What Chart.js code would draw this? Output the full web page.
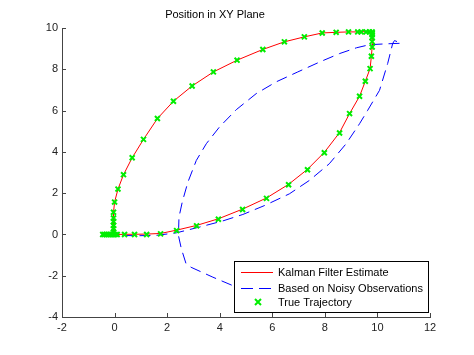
<!DOCTYPE html>
<html>
<head>
<meta charset="utf-8">
<script src="https://cdn.jsdelivr.net/npm/chart.js@4.4.1/dist/chart.umd.min.js"></script>
<style>
  html, body { margin: 0; padding: 0; background: #fff; }
  #wrap { width: 474px; height: 355px; }
</style>
</head>
<body>
<div id="wrap"><canvas id="c" width="474" height="355"></canvas></div>
<script>
// ---- Data ----
const xTicks = [-2, 0, 2, 4, 6, 8, 10, 12];
const yTicks = [-4, -2, 0, 2, 4, 6, 8, 10];
const seriesNames = ["Kalman Filter Estimate", "Based on Noisy Observations", "True Trajectory"];

// True trajectory (green x markers)
const trueX = [-0.45,-0.38,-0.30,-0.22,-0.14,-0.06,0.02,0.10,0.38,0.76,1.22,1.75,2.36,3.12,3.95,4.87,5.78,6.62,7.34,7.98,8.56,8.94,9.32,9.54,9.72,9.77,9.80,9.80,9.80,9.80,9.80,9.80,9.70,9.57,9.38,9.25,8.90,8.43,7.90,7.22,6.46,5.64,4.66,3.76,2.95,2.24,1.63,1.10,0.67,0.34,0.13,0.00,-0.04,-0.04,-0.04,-0.04,-0.04,-0.04];
const trueY = [0,0,0,0,0,0,0,0,0,0,0,0.03,0.19,0.42,0.74,1.21,1.75,2.41,3.14,3.96,4.92,5.86,6.70,7.43,8.04,8.64,9.09,9.35,9.55,9.68,9.76,9.82,9.82,9.82,9.82,9.82,9.82,9.80,9.77,9.58,9.34,8.97,8.45,7.88,7.20,6.46,5.62,4.61,3.72,2.90,2.20,1.57,1.08,0.80,0.62,0.44,0.28,0.12];

// Kalman filter estimate (red line)
const kalX = [-0.45,-0.30,-0.14,0.02,0.10,0.38,0.76,1.22,1.75,2.36,3.12,3.95,4.87,5.78,6.62,7.34,7.98,8.56,8.94,9.32,9.54,9.72,9.77,9.80,9.81,9.80,9.70,9.57,9.38,9.25,8.90,8.43,7.90,7.22,6.46,5.64,4.66,3.76,2.95,2.24,1.63,1.10,0.67,0.34,0.13,0.00,-0.04,-0.04,-0.04];
const kalY = [0,0,0,0,0,0.01,0.01,0.02,0.05,0.21,0.44,0.76,1.23,1.77,2.43,3.16,3.98,4.94,5.86,6.70,7.43,8.04,8.64,9.09,9.55,9.82,9.83,9.83,9.83,9.82,9.82,9.80,9.77,9.58,9.34,8.97,8.45,7.88,7.20,6.46,5.62,4.61,3.72,2.90,2.20,1.57,1.08,0.50,0.05];

// Based on noisy observations (blue dashed)
const obsX = [0.30,0.90,1.60,2.35,3.23,4.10,4.88,5.70,6.65,7.41,8.17,8.81,9.32,9.63,10.08,10.39,10.58,10.65,10.90,10.30,9.70,9.20,8.56,7.80,6.97,6.15,5.39,4.63,3.99,3.49,3.11,2.79,2.58,2.45,2.43,2.54,2.72,2.91,3.74,4.50,5.30];
const obsY = [-0.05,-0.06,-0.04,0.08,0.36,0.65,0.97,1.40,1.97,2.62,3.43,4.40,5.37,6.02,6.99,8.29,9.26,9.40,9.27,9.24,9.20,9.05,8.77,8.36,7.88,7.40,6.83,6.05,5.21,4.40,3.59,2.54,1.60,0.84,-0.05,-0.69,-1.42,-1.59,-2.07,-2.48,-2.90];

const toPts = (xs, ys) => xs.map((x, i) => ({ x: x, y: ys[i] }));

const FONT = "'Liberation Sans', Arial, sans-serif";
const RED = '#ff0000', BLUE = '#0000ff', GREEN = '#00ee00';

const tickPlugin = {
  id: 'inwardTicks',
  afterDraw(chart) {
    const ctx = chart.ctx, xs = chart.scales.x, ys = chart.scales.y, a = chart.chartArea;
    ctx.save();
    ctx.strokeStyle = '#444';
    ctx.lineWidth = 1;
    ctx.beginPath();
    xTicks.forEach(v => {
      const p = Math.round(xs.getPixelForValue(v)) + 0.5;
      ctx.moveTo(p, a.bottom); ctx.lineTo(p, a.bottom - 4);
    });
    yTicks.forEach(v => {
      const p = Math.round(ys.getPixelForValue(v)) + 0.5;
      ctx.moveTo(a.left, p); ctx.lineTo(a.left + 4, p);
    });
    ctx.stroke();
    ctx.restore();
  }
};

const legendPlugin = {
  id: 'boxLegend',
  afterDatasetsDraw(chart) {
    const ctx = chart.ctx;
    const L = 234.5, T = 261.5, W = 194, H = 51;
    ctx.save();
    ctx.fillStyle = '#fff';
    ctx.fillRect(L, T, W, H);
    ctx.strokeStyle = '#000';
    ctx.lineWidth = 1;
    ctx.strokeRect(L, T, W, H);
    ctx.font = '11px ' + FONT;
    ctx.fillStyle = '#000';
    ctx.textBaseline = 'middle';
    const rows = [272, 288, 302];
    ctx.strokeStyle = RED; ctx.beginPath(); ctx.moveTo(241, rows[0] + 0.5); ctx.lineTo(273, rows[0] + 0.5); ctx.stroke();
    ctx.strokeStyle = BLUE; ctx.setLineDash([12, 6]); ctx.beginPath(); ctx.moveTo(241, rows[1] + 0.5); ctx.lineTo(273, rows[1] + 0.5); ctx.stroke();
    ctx.setLineDash([]);
    ctx.strokeStyle = GREEN; ctx.lineWidth = 2; ctx.beginPath();
    ctx.moveTo(255, rows[2] - 3); ctx.lineTo(261, rows[2] + 3);
    ctx.moveTo(261, rows[2] - 3); ctx.lineTo(255, rows[2] + 3);
    ctx.stroke();
    seriesNames.forEach((n, i) => ctx.fillText(n, 278, rows[i] + 1));
    ctx.restore();
  }
};

new Chart(document.getElementById('c'), {
  type: 'scatter',
  data: {
    datasets: [
      { label: seriesNames[0], data: toPts(kalX, kalY), showLine: true, borderColor: RED, borderWidth: 1, pointRadius: 0, fill: false, order: 2 },
      { label: seriesNames[1], data: toPts(obsX, obsY), showLine: true, borderColor: BLUE, borderWidth: 1, borderDash: [11, 6], pointRadius: 0, fill: false, order: 3 },
      { label: seriesNames[2], data: toPts(trueX, trueY), showLine: false, pointStyle: 'crossRot', pointRadius: 3.5, borderColor: GREEN, backgroundColor: GREEN, pointBorderWidth: 2, order: 1 }
    ]
  },
  options: {
    responsive: false,
    animation: false,
    devicePixelRatio: 1,
    layout: { padding: { left: 0, right: 44, top: 0, bottom: 0 } },
    plugins: {
      legend: { display: false },
      tooltip: { enabled: false },
      title: { display: true, text: 'Position in XY Plane', color: '#000', font: { family: FONT, size: 11, weight: 'normal' }, padding: { top: 8, bottom: 7 } }
    },
    scales: {
      x: {
        type: 'linear', min: -2, max: 12,
        afterBuildTicks: s => { s.ticks = xTicks.map(v => ({ value: v })); },
        afterFit: s => { s.height = 38; },
        grid: { display: false, drawTicks: false },
        border: { display: true, color: '#444', width: 1 },
        ticks: { color: '#222', padding: 4, maxRotation: 0, autoSkip: false, font: { family: FONT, size: 11 } }
      },
      y: {
        type: 'linear', min: -4, max: 10,
        afterBuildTicks: s => { s.ticks = yTicks.map(v => ({ value: v })); },
        afterFit: s => { s.width = 62; },
        grid: { display: false, drawTicks: false },
        border: { display: true, color: '#444', width: 1 },
        ticks: { color: '#222', padding: 4, autoSkip: false, font: { family: FONT, size: 11 } }
      }
    }
  },
  plugins: [tickPlugin, legendPlugin]
});
</script>
</body>
</html>
